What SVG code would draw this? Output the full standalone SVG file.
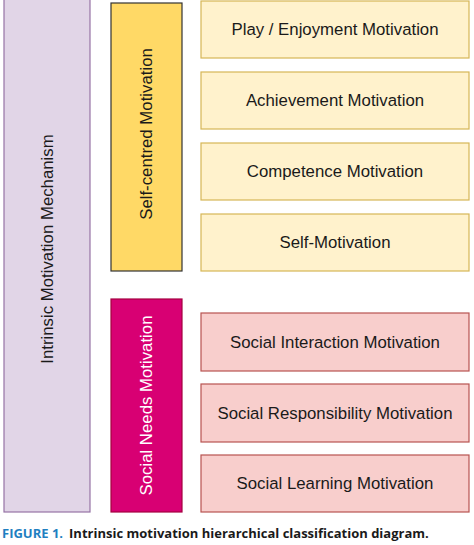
<svg xmlns="http://www.w3.org/2000/svg" width="474" height="545" viewBox="0 0 474 545">
<style>
text{font-family:"Liberation Sans",Arial,sans-serif;font-size:16.8px;text-anchor:middle;dominant-baseline:central;fill:#1a1a1a}
.y{fill:#fff2cc;stroke:#d6b656;stroke-width:1.2}
.p{fill:#f8cecc;stroke:#b85450;stroke-width:1.2}
.cap{font-family:"Open Sans","Liberation Sans",sans-serif;font-weight:bold;font-size:13px;text-anchor:start;dominant-baseline:auto}
</style>
<rect width="474" height="545" fill="#fff"/>
<g id="root">
<rect x="4" y="-1" width="86" height="513" fill="#e1d5e7" stroke="#9673a6" stroke-width="1.2"/>
<text transform="translate(47 249) rotate(-90)">Intrinsic Motivation Mechanism</text>
</g>
<g id="self">
<rect x="111" y="3" width="71" height="268" fill="#ffd966" stroke="#333" stroke-width="1.2"/>
<text transform="translate(146.5 134) rotate(-90)">Self-centred Motivation</text>
</g>
<g id="social">
<rect x="111" y="299" width="71" height="213" fill="#d80073" stroke="#a50040" stroke-width="1.2"/>
<text transform="translate(146.5 405.5) rotate(-90)" style="fill:#fff">Social Needs Motivation</text>
</g>
<g id="play"><rect class="y" x="201" y="1" width="268" height="57"/><text x="335" y="29.5">Play / Enjoyment Motivation</text></g>
<g id="achieve"><rect class="y" x="201" y="72" width="268" height="57"/><text x="335" y="100.5">Achievement Motivation</text></g>
<g id="compet"><rect class="y" x="201" y="143" width="268" height="57"/><text x="335" y="171.5">Competence Motivation</text></g>
<g id="selfmot"><rect class="y" x="201" y="214" width="268" height="57"/><text x="335" y="242.5">Self-Motivation</text></g>
<g id="interact"><rect class="p" x="201" y="313" width="268" height="58"/><text x="335" y="342">Social Interaction Motivation</text></g>
<g id="resp"><rect class="p" x="201" y="384" width="268" height="58"/><text x="335" y="413">Social Responsibility Motivation</text></g>
<g id="learn"><rect class="p" x="201" y="455" width="268" height="57"/><text x="335" y="483.5">Social Learning Motivation</text></g>
<g id="connectors"></g>
<text class="cap" x="2" y="538"><tspan fill="#1f7fc1">FIGURE 1.</tspan><tspan fill="#1a1a1a" dx="6">Intrinsic motivation hierarchical classification diagram.</tspan></text>
</svg>
